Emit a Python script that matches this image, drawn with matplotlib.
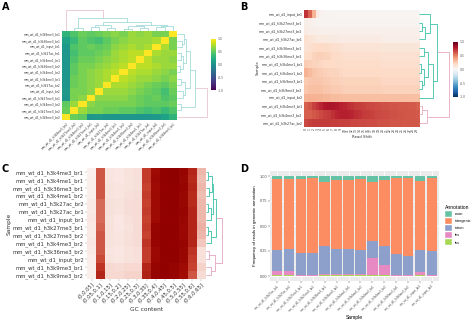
import numpy as np
import matplotlib
matplotlib.use("Agg")
import matplotlib.pyplot as plt
from matplotlib.colors import LinearSegmentedColormap
from matplotlib.patches import Patch

# ---------------------------------------------------------------- data
# Panel A: sample-sample correlation (lower triangle, sample order = column order)
names_a = ["mm_wt_d1_h3k9me3_br2", "mm_wt_d1_h3k27me3_br2", "mm_wt_d1_h3k4me3_br2",
           "mm_wt_d1_h3k27me3_br1", "mm_wt_d1_input_br2", "mm_wt_d1_h3k27ac_br2",
           "mm_wt_d1_h3k4me3_br1", "mm_wt_d1_h3k4me1_br2", "mm_wt_d1_h3k36me3_br2",
           "mm_wt_d1_h3k4me1_br1", "mm_wt_d1_h3k27ac_br1", "mm_wt_d1_input_br1",
           "mm_wt_d1_h3k36me3_br1", "mm_wt_d1_h3k9me3_br1"]
corr_lower = [
    [],
    [0.55],
    [0.50, 0.70],
    [0.05, 0.60, 0.65],
    [0.08, 0.60, 0.60, 0.65],
    [0.05, 0.55, 0.60, 0.65, 0.70],
    [0.05, 0.55, 0.60, 0.65, 0.70, 0.75],
    [0.05, 0.50, 0.60, 0.65, 0.70, 0.75, 0.80],
    [0.05, 0.50, 0.60, 0.60, 0.65, 0.70, 0.75, 0.80],
    [0.05, 0.45, 0.55, 0.55, 0.60, 0.65, 0.70, 0.75, 0.80],
    [0.05, 0.40, 0.50, 0.50, 0.55, 0.60, 0.70, 0.75, 0.80, 0.80],
    [0.08, 0.45, 0.50, 0.55, 0.50, 0.55, 0.65, 0.70, 0.75, 0.70, 0.75],
    [0.15, 0.35, 0.50, 0.45, 0.40, 0.50, 0.60, 0.65, 0.70, 0.70, 0.70, 0.75],
    [0.30, 0.45, 0.55, 0.50, 0.55, 0.60, 0.65, 0.60, 0.70, 0.65, 0.70, 0.60, 0.60],
]
# clustering of panel A samples: (child, child, height); ids >= 14 are earlier merges
tree_a = [(1, 2, 0.15), (3, 4, 0.20), (5, 6, 0.12), (7, 8, 0.10), (9, 10, 0.12),
          (11, 12, 0.18), (19, 13, 0.25), (17, 18, 0.22), (21, 20, 0.30),
          (15, 16, 0.28), (23, 22, 0.45), (14, 24, 0.62), (0, 25, 1.00)]
tree_a_groups = [0] * 12 + [1]

# Panel B: read-shift profiles
names_b = ["mm_wt_d1_input_br1", "mm_wt_d1_h3k27me3_br1", "mm_wt_d1_h3k27me3_br2",
           "mm_wt_d1_h3k27ac_br1", "mm_wt_d1_h3k36me3_br1", "mm_wt_d1_h3k36me3_br2",
           "mm_wt_d1_h3k4me1_br1", "mm_wt_d1_h3k4me1_br2", "mm_wt_d1_h3k9me3_br1",
           "mm_wt_d1_h3k9me3_br2", "mm_wt_d1_input_br2", "mm_wt_d1_h3k4me3_br1",
           "mm_wt_d1_h3k4me3_br2", "mm_wt_d1_h3k27ac_br2"]
read_shift = [0, 1, 2, 3, 4, 5, 6, 7, 8, 9, 10, 11, 12, 13, 14, 15, 16, 17, 18, 19,
              20, 21, 22, 23, 24, 25, 26, 27, 28, 29]
shift_b = [
    [0.72, 0.58, 0.35, 0.08, 0.04, 0.03, 0.03, 0.03] + [0.02] * 22,
    [0.06, 0.05, 0.04] + [0.03] * 27,
    [0.08, 0.07, 0.06, 0.06] + [0.05] * 26,
    [0.16, 0.14, 0.12, 0.10, 0.10, 0.10, 0.09, 0.09, 0.09, 0.08] + [0.08] * 10 + [0.07] * 10,
    [0.15, 0.16, 0.18, 0.20, 0.20, 0.19, 0.18, 0.17, 0.16, 0.15] + [0.14] * 10 + [0.12] * 10,
    [0.18, 0.20, 0.22, 0.24, 0.24, 0.23, 0.22, 0.20, 0.19, 0.18] + [0.17] * 10 + [0.15] * 10,
    [0.25, 0.24, 0.22, 0.22, 0.21, 0.20, 0.20, 0.20, 0.19, 0.19] + [0.18] * 10 + [0.17] * 10,
    [0.35, 0.32, 0.28, 0.26, 0.25, 0.24, 0.23, 0.22, 0.22, 0.21] + [0.20] * 10 + [0.19] * 10,
    [0.26, 0.27, 0.28, 0.28, 0.27, 0.26, 0.25, 0.24, 0.24, 0.23] + [0.22] * 10 + [0.21] * 10,
    [0.28, 0.29, 0.30, 0.30, 0.29, 0.28, 0.27, 0.26, 0.26, 0.25] + [0.24] * 10 + [0.23] * 10,
    [0.34, 0.35, 0.35, 0.35, 0.34, 0.33, 0.33, 0.32, 0.32, 0.31] + [0.30] * 20,
    [0.60, 0.63, 0.68, 0.72, 0.76, 0.80, 0.82, 0.82, 0.80, 0.78, 0.76, 0.74, 0.72, 0.70, 0.69,
     0.68, 0.67, 0.66, 0.65, 0.65, 0.64, 0.64, 0.63, 0.63, 0.62, 0.62, 0.62, 0.61, 0.61, 0.60],
    [0.60, 0.60, 0.62, 0.64, 0.66, 0.68, 0.70, 0.73, 0.76, 0.78, 0.78, 0.77, 0.76, 0.74, 0.72,
     0.70, 0.69, 0.68, 0.67, 0.66, 0.65, 0.65, 0.64, 0.64, 0.63, 0.63, 0.62, 0.62, 0.62, 0.61],
    [0.66, 0.68, 0.70, 0.70, 0.70, 0.70, 0.70, 0.69, 0.69, 0.68, 0.68, 0.68, 0.67, 0.67, 0.66,
     0.66, 0.65, 0.65, 0.65, 0.64, 0.64, 0.64, 0.63, 0.63, 0.63, 0.62, 0.62, 0.62, 0.62, 0.62],
]
tree_b = [(1, 2, 0.10), (14, 3, 0.20), (0, 15, 0.35), (4, 5, 0.15), (6, 7, 0.05),
          (8, 9, 0.10), (18, 19, 0.15), (17, 20, 0.30), (21, 10, 0.45), (16, 22, 0.60),
          (11, 12, 0.10), (24, 13, 0.25), (23, 25, 1.00)]
tree_b_groups = [0] * 10 + [1, 1, 1]

# Panel C: GC-content distribution
names_c = ["mm_wt_d1_h3k4me3_br1", "mm_wt_d1_h3k4me1_br1", "mm_wt_d1_h3k36me3_br1",
           "mm_wt_d1_h3k4me1_br2", "mm_wt_d1_h3k27ac_br2", "mm_wt_d1_h3k27ac_br1",
           "mm_wt_d1_input_br1", "mm_wt_d1_h3k27me3_br1", "mm_wt_d1_h3k27me3_br2",
           "mm_wt_d1_h3k4me3_br2", "mm_wt_d1_h3k36me3_br2", "mm_wt_d1_input_br2",
           "mm_wt_d1_h3k9me3_br1", "mm_wt_d1_h3k9me3_br2"]
gc_bins = ["(0,0.05]", "(0.05,0.1]", "(0.1,0.15]", "(0.15,0.2]", "(0.2,0.25]",
           "(0.25,0.3]", "(0.3,0.35]", "(0.35,0.4]", "(0.4,0.45]", "(0.45,0.5]",
           "(0.5,0.55]", "(0.55,0.6]", "(0.6,0.65]"]
gc_c = [
    [0.04, 0.55, 0.12, 0.10, 0.14, 0.16, 0.62, 0.82, 0.97, 1.00, 0.90, 0.70, 0.30],
    [0.05, 0.55, 0.12, 0.10, 0.13, 0.15, 0.62, 0.85, 0.97, 1.00, 0.88, 0.68, 0.28],
    [0.05, 0.55, 0.14, 0.12, 0.14, 0.15, 0.60, 0.82, 0.95, 0.97, 0.90, 0.70, 0.30],
    [0.05, 0.55, 0.13, 0.12, 0.15, 0.17, 0.62, 0.84, 0.97, 0.98, 0.88, 0.68, 0.28],
    [0.08, 0.50, 0.15, 0.14, 0.17, 0.18, 0.60, 0.82, 0.95, 0.98, 0.88, 0.68, 0.30],
    [0.08, 0.50, 0.15, 0.13, 0.17, 0.18, 0.62, 0.83, 0.96, 0.97, 0.90, 0.70, 0.30],
    [0.10, 0.50, 0.14, 0.10, 0.15, 0.18, 0.60, 0.82, 0.95, 0.95, 0.88, 0.70, 0.30],
    [0.08, 0.52, 0.14, 0.10, 0.14, 0.18, 0.62, 0.90, 0.98, 0.97, 0.86, 0.70, 0.32],
    [0.08, 0.55, 0.14, 0.12, 0.15, 0.18, 0.60, 0.92, 0.97, 0.97, 0.86, 0.70, 0.30],
    [0.10, 0.55, 0.14, 0.12, 0.15, 0.18, 0.65, 0.90, 0.98, 0.95, 0.90, 0.70, 0.25],
    [0.08, 0.55, 0.12, 0.10, 0.14, 0.16, 0.62, 0.85, 0.97, 0.97, 0.88, 0.65, 0.15],
    [0.06, 0.58, 0.13, 0.11, 0.14, 0.16, 0.62, 0.86, 0.96, 0.97, 0.88, 0.62, 0.15],
    [0.05, 0.65, 0.20, 0.18, 0.20, 0.20, 0.70, 0.90, 0.97, 0.92, 0.82, 0.60, 0.22],
    [0.05, 0.70, 0.20, 0.20, 0.22, 0.22, 0.72, 0.92, 0.95, 0.90, 0.80, 0.55, 0.18],
]
tree_c = [(0, 1, 0.15), (2, 3, 0.20), (14, 15, 0.35), (4, 5, 0.15), (17, 6, 0.30),
          (16, 18, 0.45), (7, 8, 0.15), (20, 9, 0.30), (19, 21, 0.60), (10, 11, 0.20),
          (12, 13, 0.30), (23, 24, 0.55), (22, 25, 1.00)]
tree_c_groups = [0] * 9 + [1, 1, 1, 1]

# Panel D: genomic annotation of reads
samples_d = ["mm_wt_d1_h3k27ac_br1", "mm_wt_d1_h3k27ac_br2", "mm_wt_d1_h3k27me3_br1",
             "mm_wt_d1_h3k27me3_br2", "mm_wt_d1_h3k36me3_br1", "mm_wt_d1_h3k36me3_br2",
             "mm_wt_d1_h3k4me1_br1", "mm_wt_d1_h3k4me1_br2", "mm_wt_d1_h3k4me3_br1",
             "mm_wt_d1_h3k4me3_br2", "mm_wt_d1_h3k9me3_br1", "mm_wt_d1_h3k9me3_br2",
             "mm_wt_d1_input_br1", "mm_wt_d1_input_br2"]
tss = [0.010, 0.010, 0.005, 0.005, 0.010, 0.010, 0.010, 0.010, 0.010, 0.010, 0.005, 0.005, 0.010, 0.005]
tes = [0.040, 0.040, 0.010, 0.010, 0.010, 0.010, 0.010, 0.010, 0.170, 0.100, 0.010, 0.010, 0.035, 0.010]
intron = [0.213, 0.220, 0.215, 0.215, 0.280, 0.250, 0.253, 0.240, 0.170, 0.190, 0.202, 0.185, 0.218, 0.232]
intergenic = [0.704, 0.703, 0.743, 0.750, 0.643, 0.693, 0.690, 0.713, 0.593, 0.657, 0.763, 0.783, 0.687, 0.730]
exon = [0.033, 0.027, 0.027, 0.020, 0.057, 0.037, 0.037, 0.027, 0.057, 0.043, 0.020, 0.017, 0.050, 0.023]

# ---------------------------------------------------------------- figure
W, H = 474, 328
fig = plt.figure(figsize=(W / 100, H / 100), dpi=100)
fig.patch.set_facecolor("white")


def px_axes(x0, y0, x1, y1):
    return fig.add_axes([x0 / W, 1 - y1 / H, (x1 - x0) / W, (y1 - y0) / H])


def draw_tree(ax, merges, leaf_pos, colors, orient, lw=0.6):
    pos = list(leaf_pos)
    hts = [0.0] * len(leaf_pos)
    for k, (a, b, h) in enumerate(merges):
        pa, pb, ha, hb = pos[a], pos[b], hts[a], hts[b]
        if orient == "right":
            ax.plot([ha, h, h, hb], [pa, pa, pb, pb], color=colors[k], lw=lw,
                    solid_capstyle="butt")
        else:
            ax.plot([pa, pa, pb, pb], [ha, h, h, hb], color=colors[k], lw=lw,
                    solid_capstyle="butt")
        pos.append((pa + pb) / 2)
        hts.append(h)


def blank(ax):
    ax.set_xticks([])
    ax.set_yticks([])
    for s in ax.spines.values():
        s.set_visible(False)
    ax.patch.set_alpha(0)


def small_cbar(im, box, size):
    cax = px_axes(*box)
    cb = fig.colorbar(im, cax=cax, ticks=[-1, -0.5, 0, 0.5, 1])
    cb.ax.set_yticklabels(["-1.0", "-0.5", "0.0", "0.5", "1.0"])
    cb.ax.tick_params(labelsize=size, length=0, pad=1, colors="#555555")
    cb.outline.set_visible(False)


txt = "#333333"

# ---------------------------------------------------------------- A
n = len(names_a)
corr = np.eye(n)
for i, row in enumerate(corr_lower):
    for j, v in enumerate(row):
        corr[i, j] = corr[j, i] = v
axA = px_axes(62, 31, 177, 120)
imA = axA.imshow(corr[::-1], cmap="viridis", vmin=-1, vmax=1, aspect="auto",
                 interpolation="nearest")
axA.set_yticks(range(n))
axA.set_yticklabels(names_a[::-1], fontsize=2.1, color=txt)
axA.set_xticks(range(n))
axA.set_xticklabels(names_a, fontsize=2.1, rotation=45, ha="right",
                    rotation_mode="anchor", color=txt)
axA.tick_params(length=0, pad=1)
for s in axA.spines.values():
    s.set_visible(False)

cols_a = ["#8fd5d0", "#e3b9c6"]
axAt = px_axes(62, 9, 177, 31)
draw_tree(axAt, tree_a, list(range(n)), [cols_a[g] for g in tree_a_groups], "top", lw=0.5)
axAt.set_xlim(-0.5, n - 0.5)
axAt.set_ylim(0, 1.05)
blank(axAt)

axAr = px_axes(177, 31, 208, 120)
draw_tree(axAr, tree_a, [n - 1 - k for k in range(n)], [cols_a[g] for g in tree_a_groups],
          "right", lw=0.5)
axAr.set_ylim(n - 0.5, -0.5)
axAr.set_xlim(0, 1.05)
blank(axAr)
small_cbar(imA, (211, 39, 216, 90), 2.2)

# ---------------------------------------------------------------- B
axB = px_axes(304, 10, 419, 127)
imB = axB.imshow(np.array(shift_b), cmap="RdBu_r", vmin=-1, vmax=1, aspect="auto",
                 interpolation="nearest")
axB.set_yticks(range(len(names_b)))
axB.set_yticklabels(names_b, fontsize=2.35, color=txt)
axB.set_xticks(range(len(read_shift)))
axB.set_xticklabels([str(v) for v in read_shift], fontsize=2.2, rotation=90, color=txt)
axB.tick_params(length=0, pad=1)
for s in axB.spines.values():
    s.set_visible(False)
axB.set_xlabel("Read Shift", fontsize=2.8, labelpad=2, color=txt)
fig.text(258 / W, 1 - 68 / H, "Sample", rotation=90, fontsize=2.8, color=txt,
         ha="center", va="center")

cols_b = ["#3cc2a8", "#e8a9bf"]
axBr = px_axes(419, 10, 450, 127)
draw_tree(axBr, tree_b, list(range(len(names_b))), [cols_b[g] for g in tree_b_groups], "right")
axBr.set_ylim(len(names_b) - 0.5, -0.5)
axBr.set_xlim(0, 1.03)
blank(axBr)
small_cbar(imB, (453, 42, 458, 97), 2.2)

# ---------------------------------------------------------------- C
reds = LinearSegmentedColormap.from_list(
    "gc_reds", ["#fdf6f4", "#f7d9d2", "#e59585", "#c7412f", "#a10c05", "#8f0000"])
axC = px_axes(87, 168, 206, 279)
axC.imshow(np.array(gc_c), cmap=reds, vmin=0, vmax=1, aspect="auto", interpolation="nearest")
axC.set_yticks(range(len(names_c)))
axC.set_yticklabels(names_c, fontsize=3.8, color=txt)
axC.set_xticks(range(len(gc_bins)))
axC.set_xticklabels(gc_bins, fontsize=3.8, rotation=45, ha="right",
                    rotation_mode="anchor", color=txt)
axC.tick_params(length=1.2, width=0.3, pad=1, color="#999999")
for s in axC.spines.values():
    s.set_visible(False)
axC.set_xlabel("GC content", fontsize=4.2, labelpad=2, color=txt)
axC.set_ylabel("Sample", fontsize=4.2, labelpad=1, color=txt)

cols_c = ["#36c0a3", "#e2a5c0"]
axCr = px_axes(206, 168, 223, 279)
draw_tree(axCr, tree_c, list(range(len(names_c))), [cols_c[g] for g in tree_c_groups], "right")
axCr.set_ylim(len(names_c) - 0.5, -0.5)
axCr.set_xlim(0, 1.05)
blank(axCr)

# ---------------------------------------------------------------- D
gg_font = ["Liberation Sans", "DejaVu Sans"]
set2 = {"exon": "#66c2a5", "intergenic": "#fc8d62", "intron": "#8da0cb",
        "tes": "#e78ac3", "tss": "#a6d854"}
axD = px_axes(270, 171, 439, 281)
axD.set_facecolor("#ebebeb")
x = np.arange(1, len(samples_d) + 1)
bottom = np.zeros(len(samples_d))
for key, vals in [("tss", tss), ("tes", tes), ("intron", intron),
                  ("intergenic", intergenic), ("exon", exon)]:
    axD.bar(x, vals, bottom=bottom, width=0.9, color=set2[key], linewidth=0, zorder=3)
    bottom += np.array(vals)
axD.set_xlim(0.4, len(samples_d) + 0.6)
axD.set_ylim(-0.05, 1.05)
axD.set_yticks([0, 0.25, 0.5, 0.75, 1.0])
axD.set_yticklabels(["0.00", "0.25", "0.50", "0.75", "1.00"], fontsize=2.8,
                    color="#4d4d4d", family=gg_font)
axD.set_yticks([0.125, 0.375, 0.625, 0.875], minor=True)
axD.set_xticks(x)
axD.set_xticklabels(samples_d, fontsize=2.2, rotation=45, ha="right",
                    rotation_mode="anchor", color="#4d4d4d", family=gg_font)
axD.grid(True, which="major", color="white", lw=0.6, zorder=0)
axD.grid(True, which="minor", axis="y", color="white", lw=0.3, zorder=0)
axD.tick_params(which="major", length=1.2, width=0.3, color="#333333", pad=1)
axD.tick_params(which="minor", length=0)
for s in axD.spines.values():
    s.set_visible(False)
axD.set_ylabel("Frequency of reads in genomic annotation", fontsize=3.2,
               family=gg_font, labelpad=2)
axD.set_xlabel("Sample", fontsize=3.6, family=gg_font, labelpad=2)
handles = [Patch(facecolor=set2[k], edgecolor="white", linewidth=0.3) for k in
           ["exon", "intergenic", "intron", "tes", "tss"]]
leg = axD.legend(handles, ["exon", "intergenic", "intron", "tes", "tss"],
                 title="Annotation", loc="upper left", bbox_to_anchor=(443 / W, 1 - 203 / H),
                 bbox_transform=fig.transFigure, frameon=False,
                 prop={"size": 2.8, "family": gg_font},
                 title_fontproperties={"size": 3.6, "family": gg_font},
                 handlelength=2.0, handleheight=2.0, labelspacing=0.3, handletextpad=0.6,
                 borderaxespad=0, alignment="left")

# ---------------------------------------------------------------- panel letters
for letter, (lx, ly) in {"A": (2, 2), "B": (240, 2), "C": (2, 164), "D": (240, 164)}.items():
    fig.text(lx / W, 1 - ly / H, letter, fontsize=7, fontweight="bold", ha="left", va="top")

fig.savefig("out.png", dpi=100)
